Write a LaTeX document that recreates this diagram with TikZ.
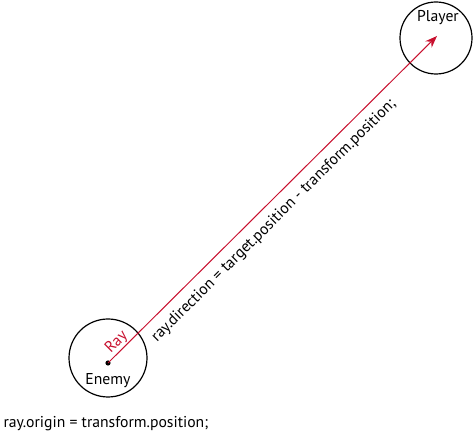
\documentclass[tikz,border=0pt]{standalone}
\usepackage{fontspec}
\setmainfont{PT Sans}
\usepackage{tikz}
\usetikzlibrary{arrows.meta,positioning}
\definecolor{rayRed}{HTML}{C8102E}

\begin{document}
\begin{tikzpicture}[x=1pt, y=1pt, font=\fontsize{15.7}{18}\selectfont, >={Stealth[length=12pt,width=9pt]}]
\useasboundingbox (0,0) rectangle (474,433);
% objects
\node[circle, draw, line width=1.2pt, minimum size=78pt] (enemy) at (108,75) {};
\node[circle, draw, line width=1.2pt, minimum size=72pt] (player) at (436,395) {};
\fill (108,70) circle (2.6pt);
\coordinate (origin) at (108,70);
\coordinate (target) at (437,397);
\node (enemylbl) at (108,52) {Enemy};
\node (playerlbl) at (438,415) {Player};
% the ray
\draw[->, rayRed, line width=1pt] (origin) -- (target)
  node[pos=0.045, sloped, above, inner sep=1pt] (raylbl) {Ray}
  node[pos=0.47, sloped, below=5pt, text=black] (dirlbl) {ray.direction = target.position - transform.position;};
\node[anchor=base west] (originlbl) at (0,5) {ray.origin = transform.position;};
\end{tikzpicture}
\end{document}
